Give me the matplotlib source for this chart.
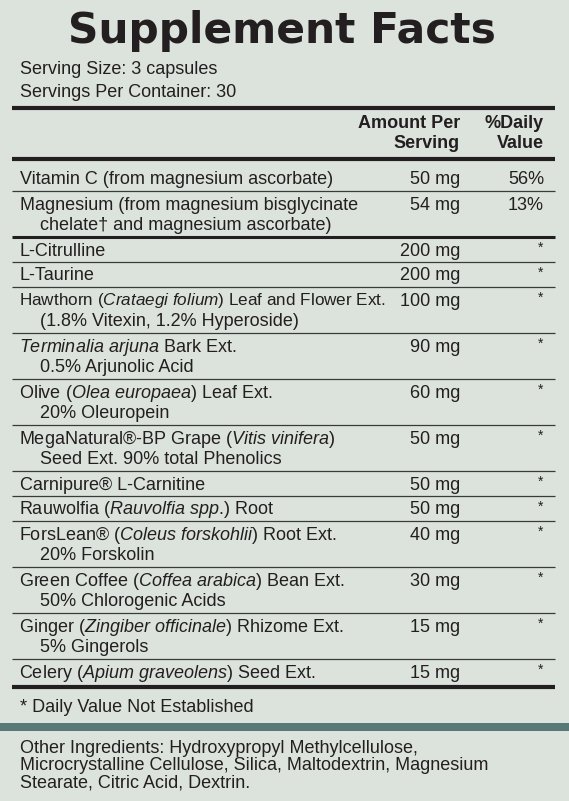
import matplotlib
matplotlib.use('Agg')
import matplotlib.pyplot as plt

plt.rcParams['font.family'] = ['Liberation Sans', 'DejaVu Sans']
plt.rcParams['mathtext.fontset'] = 'custom'
plt.rcParams['mathtext.rm'] = 'Liberation Sans'
plt.rcParams['mathtext.it'] = 'Liberation Sans:italic'

TITLE = 'Supplement Facts'
serving_lines = ['Serving Size: 3 capsules', 'Servings Per Container: 30']
head_amount = ['Amount Per', 'Serving']
head_dv = ['%Daily', 'Value']

# text between underscores is set in italics
names = [
    'Vitamin C (from magnesium ascorbate)',
    'Magnesium (from magnesium bisglycinate',
    'L-Citrulline',
    'L-Taurine',
    'Hawthorn (_Crataegi folium_) Leaf and Flower Ext.',
    '_Terminalia arjuna_ Bark Ext.',
    'Olive (_Olea europaea_) Leaf Ext.',
    'MegaNatural®-BP Grape (_Vitis vinifera_)',
    'Carnipure® L-Carnitine',
    'Rauwolfia (_Rauvolfia spp_.) Root',
    'ForsLean® (_Coleus forskohlii_) Root Ext.',
    'Green Coffee (_Coffea arabica_) Bean Ext.',
    'Ginger (_Zingiber officinale_) Rhizome Ext.',
    'Celery (_Apium graveolens_) Seed Ext.',
]
subnames = [
    '',
    'chelate† and magnesium ascorbate)',
    '',
    '',
    '(1.8% Vitexin, 1.2% Hyperoside)',
    '0.5% Arjunolic Acid',
    '20% Oleuropein',
    'Seed Ext. 90% total Phenolics',
    '',
    '',
    '20% Forskolin',
    '50% Chlorogenic Acids',
    '5% Gingerols',
    '',
]
amounts = ['50 mg', '54 mg', '200 mg', '200 mg', '100 mg', '90 mg', '60 mg',
           '50 mg', '50 mg', '50 mg', '40 mg', '30 mg', '15 mg', '15 mg']
daily = ['56%', '13%', '*', '*', '*', '*', '*', '*', '*', '*', '*', '*', '*', '*']
n_vitamins = 2

footnote = '* Daily Value Not Established'
other_lines = [
    'Other Ingredients: Hydroxypropyl Methylcellulose,',
    'Microcrystalline Cellulose, Silica, Maltodextrin, Magnesium',
    'Stearate, Citric Acid, Dextrin.',
]

BG = '#dce3dc'
INK = '#231f20'
TEAL = '#587a77'
FS = 13


def styled(s):
    out = ''
    for i, part in enumerate(s.split('_')):
        if i % 2:
            out += r'$\mathit{' + part.replace(' ', r'\ ') + '}$'
        else:
            out += part
    return out


fig = plt.figure(figsize=(5.69, 8.01), dpi=100, facecolor=BG)
ax = fig.add_axes([0, 0, 1, 1])
ax.set_xlim(0, 569)
ax.set_ylim(801, 0)
ax.axis('off')
renderer = fig.canvas.get_renderer()

left, right = 12, 555
x_text, x_indent = 20, 40
x_amt, x_dv = 460, 544
name_max = 386  # long names are squeezed to stay clear of the amount column

ax.text(281.5, 43, TITLE, ha='center', va='baseline', fontsize=30.5,
        fontweight='bold', family='DejaVu Sans', color=INK)
for i, s in enumerate(serving_lines):
    ax.text(x_text, 74 + 23 * i, s, fontsize=FS, va='baseline', color=INK)

ax.hlines(108, left, right, color=INK, lw=3)
for i in range(2):
    ax.text(x_amt, 128 + 20 * i, head_amount[i], ha='right', va='baseline',
            fontsize=FS, fontweight='bold', color=INK)
    ax.text(x_dv, 128 + 20 * i, head_dv[i], ha='right', va='baseline',
            fontsize=FS, fontweight='bold', color=INK)
ax.hlines(159, left, right, color=INK, lw=3)

top = 166
for i, name in enumerate(names):
    nlines = 2 if subnames[i] else 1
    base = top + 18.5
    label = styled(name)
    shift = 1 if '$' in label else 0
    t = ax.text(x_text - shift, base, label, fontsize=FS, va='baseline',
                color=INK)
    bb = t.get_window_extent(renderer)
    if bb.x1 > name_max:
        t.set_fontsize(FS * (name_max - x_text) / bb.width)
    if subnames[i]:
        ax.text(x_indent, base + 21, subnames[i], fontsize=FS, va='baseline',
                color=INK)
    ax.text(x_amt, base, amounts[i], ha='right', va='baseline', fontsize=FS,
            color=INK)
    if daily[i] == '*':
        ax.text(x_dv - 1, base - 4, '*', ha='right', va='baseline',
                fontsize=10, color=INK)
    else:
        ax.text(x_dv, base, daily[i], ha='right', va='baseline', fontsize=FS,
                color=INK)
    top += 4 + 21 * nlines
    if i == len(names) - 1:
        ax.hlines(top + 2.5, left, right, color=INK, lw=3)
    elif i == n_vitamins - 1:
        ax.hlines(top, left, right, color=INK, lw=2.2)
    else:
        ax.hlines(top, left, right, color='#3a3a3a', lw=0.9)

ax.text(x_text, 712, footnote, fontsize=FS, va='baseline', color=INK)
ax.axhspan(723, 731, color=TEAL, lw=0)
for i, s in enumerate(other_lines):
    ax.text(x_text, 753 + 17 * i, s, fontsize=FS, va='baseline', color=INK)

fig.savefig('out.png', dpi=100, facecolor=BG)
